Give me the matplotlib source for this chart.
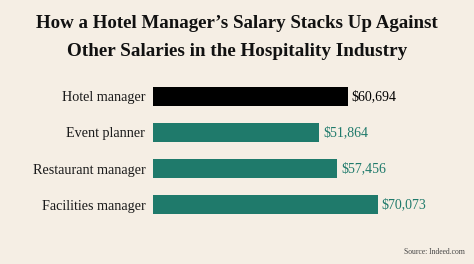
import matplotlib
matplotlib.use("Agg")
import matplotlib.pyplot as plt

categories = ["Hotel manager", "Event planner", "Restaurant manager", "Facilities manager"]
salaries = [60694, 51864, 57456, 70073]
value_labels = ["$60,694", "$51,864", "$57,456", "$70,073"]

bg = "#f5eee4"
teal = "#1f7a6b"
colors = ["#000000", teal, teal, teal]

W, H = 474, 264
fig = plt.figure(figsize=(W / 100, H / 100), dpi=100, facecolor=bg)

ax = fig.add_axes([153 / W, (H - 223) / H, 321 / W, 144.8 / H])
ax.set_facecolor(bg)
ypos = list(range(len(categories)))
ax.barh(ypos, salaries, height=0.525, color=colors)
ax.set_xlim(0, 100000)
ax.set_ylim(3.5, -0.5)
for s in ax.spines.values():
    s.set_visible(False)
ax.set_xticks([])
ax.set_yticks(ypos)
ax.set_yticklabels(categories, family="Liberation Serif", fontsize=10.2, color="#1a1a1a")
ax.tick_params(axis="y", length=0, pad=5.5)

for y, v, lab, c in zip(ypos, salaries, value_labels, colors):
    ax.text(v + 1200, y, lab, va="center", ha="left", family="Liberation Serif",
            fontsize=10, color=c)

fig.text(0.5, (H - 24) / H, "How a Hotel Manager\u2019s Salary Stacks Up Against",
         ha="center", va="center", family="Liberation Serif", fontweight="bold",
         fontsize=13.6, color="#111111")
fig.text(0.5, (H - 52) / H, "Other Salaries in the Hospitality Industry",
         ha="center", va="center", family="Liberation Serif", fontweight="bold",
         fontsize=13.8, color="#111111")
fig.text(465 / W, (H - 252) / H, "Source: Indeed.com", ha="right", va="center",
         family="Liberation Serif", fontsize=5.5, color="#444444")

fig.savefig("out.png", dpi=100, facecolor=bg)
